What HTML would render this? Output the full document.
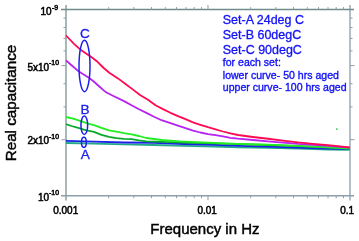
<!DOCTYPE html>
<html><head><meta charset="utf-8"><style>
html,body{margin:0;padding:0;background:#fff;overflow:hidden}
svg{display:block}
</style></head><body>
<svg width="359" height="241" viewBox="0 0 359 241">
<rect width="359" height="241" fill="#fff"/>
<line x1="66.0" y1="5" x2="66.0" y2="200.5" stroke="#9db1b1" stroke-width="1.8"/>
<line x1="350.0" y1="5" x2="350.0" y2="200.5" stroke="#9ea8b8" stroke-width="1.5"/>
<line x1="61" y1="9.6" x2="354" y2="9.6" stroke="#6f8b8d" stroke-width="1.5"/>
<line x1="61" y1="195.7" x2="354" y2="195.7" stroke="#8e9eac" stroke-width="1.5"/>
<path d="M108.7 195.7v2.5M108.7 9.6v-2.5M133.8 195.7v2.5M133.8 9.6v-2.5M151.5 195.7v2.5M151.5 9.6v-2.5M165.3 195.7v2.5M165.3 9.6v-2.5M176.5 195.7v2.5M176.5 9.6v-2.5M186.0 195.7v2.5M186.0 9.6v-2.5M194.2 195.7v2.5M194.2 9.6v-2.5M201.5 195.7v2.5M201.5 9.6v-2.5M208.0 195.7v4.5M208.0 9.6v-4.5M250.7 195.7v2.5M250.7 9.6v-2.5M275.8 195.7v2.5M275.8 9.6v-2.5M293.5 195.7v2.5M293.5 9.6v-2.5M307.3 195.7v2.5M307.3 9.6v-2.5M318.5 195.7v2.5M318.5 9.6v-2.5M328.0 195.7v2.5M328.0 9.6v-2.5M336.2 195.7v2.5M336.2 9.6v-2.5M343.5 195.7v2.5M343.5 9.6v-2.5M66.0 139.7h-4.5M350.0 139.7h4.5M66.0 106.9h-2.5M350.0 106.9h2.5M66.0 83.7h-2.5M350.0 83.7h2.5M66.0 65.6h-4.5M350.0 65.6h4.5M66.0 50.9h-2.5M350.0 50.9h2.5M66.0 38.4h-2.5M350.0 38.4h2.5M66.0 27.6h-2.5M350.0 27.6h2.5M66.0 18.1h-2.5M350.0 18.1h2.5" stroke="#8e9ea4" stroke-width="1" fill="none"/>
<polyline points="66,143 94,143.7 124,144.4 154,145 184,145.8 214,146.5 238,147.3 268,147.9 298,148.7 328,149.5 349.7,149.9" fill="none" stroke="#22aa88" stroke-width="1.8" stroke-linejoin="round"/>
<polyline points="66,140.9 94,141.6 124,142.5 154,142.75 184,144 214,144.9 238,145.8 268,146.7 298,147.6 328,148.5 349.7,149.2" fill="none" stroke="#1a22e8" stroke-width="1.8" stroke-linejoin="round"/>
<polyline points="66,124.2 71.5,126 79,128.2 86.4,130.4 94,131.85 101.5,134.8 109,136.8 116.4,138.1 124,138.9 131.5,139.1 139,140.4 146.4,141.4 154,141.7 184,142.6 214,143.3 238,144.1 268,145 298,146.2 328,147.3 349.7,148.6" fill="none" stroke="#0aa82a" stroke-width="1.8" stroke-linejoin="round"/>
<polyline points="66,117 74,118.8 81.4,121.3 88.9,123.8 94,125.15 101.5,127.9 109,130.4 116.4,131.7 124,133.1 131.5,134.3 139,136 146.4,138 154,139 162,140 180,141.4 214,142.8 238,143.8 268,144.6 298,145.9 328,147.3 349.7,148.7" fill="none" stroke="#22ee22" stroke-width="1.8" stroke-linejoin="round"/>
<polyline points="66,60.4 71.5,65.2 78.9,71.6 88.9,77.8 94,81.8 99,86.2 104,90.6 106.5,92.5 113.9,96.2 124,101.1 131.5,105.2 139,109.2 146.4,112.9 154,116.8 161.5,120.2 169,122.7 176.4,125.2 184,127.7 193,130.7 200.4,132.5 208,134.1 215.5,135.2 223,136.4 230.4,137.8 238,138.7 253,140 268,141.35 283,142.6 298,143.9 313,144.8 328,145.8 349.7,147.7" fill="none" stroke="#b722f0" stroke-width="1.8" stroke-linejoin="round"/>
<polyline points="66,35.5 74,43.8 80.2,49.4 86.4,53.8 91,56.8 97.5,61.8 103.7,68 109.3,72.7 118,78.4 125.5,84 133,89.6 140.4,95.2 148,99.8 155.5,105.3 163,109.1 170.4,112.8 178,116.1 185.5,119.2 193,122.3 200.4,124.8 208,127.2 215.5,129.3 223,131.5 230.4,133.4 238,135 253,137 268,138.75 283,140.6 298,142.4 313,143.8 328,145.1 349.7,147.3" fill="none" stroke="#ff0a52" stroke-width="1.8" stroke-linejoin="round"/>
<rect x="336" y="128.3" width="1.6" height="1.6" fill="#4cc46c"/>
<ellipse cx="84.5" cy="66" rx="5.5" ry="25.7" fill="none" stroke="#1c20ec" stroke-width="1.5"/>
<ellipse cx="84.3" cy="125.3" rx="3.35" ry="9.2" fill="none" stroke="#1c20ec" stroke-width="1.5"/>
<ellipse cx="83.9" cy="142.3" rx="2.4" ry="5.1" fill="none" stroke="#1c20ec" stroke-width="1.5"/>
<g style="font-family:'Liberation Sans',Arial,sans-serif" fill="#1c20ec" stroke="#1c20ec" stroke-width="0.3" font-size="13.6" text-anchor="middle"><text x="85" y="38.3">C</text><text x="85" y="113.5">B</text><text x="85.2" y="159">A</text></g>
<g style="font-family:'Liberation Sans',Arial,sans-serif" font-weight="normal" font-size="10" fill="#000" stroke="#000" stroke-width="0.5"><text x="65.7" y="214" text-anchor="middle">0.001</text><text x="207.2" y="214" text-anchor="middle">0.01</text><text x="347.2" y="214" text-anchor="middle">0.1</text><text x="51.7" y="14.8" text-anchor="end">10</text><text x="52" y="9.5" font-size="7">-9</text><text x="49.2" y="70.6" text-anchor="end">5x10</text><text x="49.1" y="65.1" font-size="6.8">-10</text><text x="49.2" y="143.9" text-anchor="end">2x10</text><text x="49.1" y="138.7" font-size="6.8">-10</text><text x="49.2" y="200.5" text-anchor="end">10</text><text x="49.1" y="195.1" font-size="6.8">-10</text></g>
<text style="font-family:'Liberation Sans',Arial,sans-serif" font-size="15" fill="#000" stroke="#000" stroke-width="0.45" x="150.3" y="234.2">Frequency in Hz</text>
<text style="font-family:'Liberation Sans',Arial,sans-serif" font-size="15.2" fill="#000" stroke="#000" stroke-width="0.45" text-anchor="middle" transform="translate(15.5,103) rotate(-90)">Real capacitance</text>
<g style="font-family:'Liberation Sans',Arial,sans-serif" fill="#1212f8" stroke="#1212f8" stroke-width="0.3" font-size="12" transform="translate(222.8,0) scale(1.04,1)"><text x="0" y="24">Set-A 24deg C</text><text x="0" y="38.6">Set-B 60degC</text><text x="0" y="54.2">Set-C 90degC</text></g>
<g style="font-family:'Liberation Sans',Arial,sans-serif" fill="#1212f8" stroke="#1212f8" stroke-width="0.35" font-size="10.4" transform="translate(222.8,0) scale(1.015,1)"><text x="0" y="65.8">for each set:</text><text x="0" y="78.6">lower curve- 50 hrs aged</text><text x="0" y="91">upper curve- 100 hrs aged</text></g>
</svg>
</body></html>
